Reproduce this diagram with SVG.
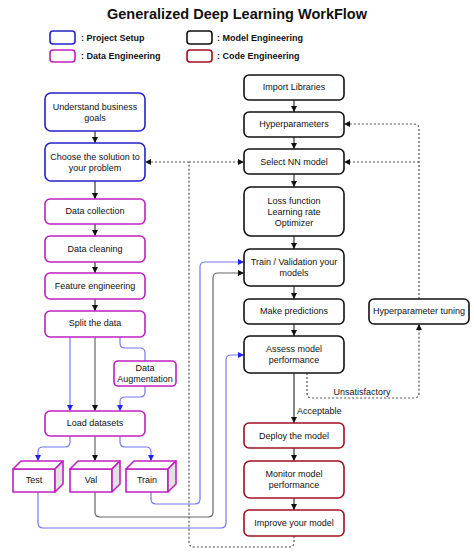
<svg xmlns="http://www.w3.org/2000/svg" width="474" height="555" viewBox="0 0 474 555">
<defs>
<style>
text{font-family:"Liberation Sans",Arial,sans-serif;font-size:9px;fill:#111;text-anchor:middle}
.title{font-size:14.5px;font-weight:bold}
.leg{font-weight:bold;text-anchor:start;font-size:9px}
.box{fill:#fff;stroke-width:1.6}
.ps{stroke:#2222cc}
.de{stroke:#c020c0}
.me{stroke:#111}
.ce{stroke:#a01020}
.cn{fill:none;stroke-width:1.2}
.k{stroke:#333}
.g{stroke:#666}
.b{stroke:#7777ee}
.d{stroke:#555;stroke-dasharray:2,2}
.cube{stroke:#c020c0;stroke-width:1.6;stroke-linejoin:round}
</style>
<marker id="ak" viewBox="0 0 6 6" refX="6" refY="3" markerWidth="6" markerHeight="6" markerUnits="userSpaceOnUse" orient="auto"><path d="M0,0L6,3L0,6z" fill="#111"/></marker>
<marker id="ab" viewBox="0 0 6 6" refX="6" refY="3" markerWidth="6" markerHeight="6" markerUnits="userSpaceOnUse" orient="auto"><path d="M0,0L6,3L0,6z" fill="#2222ee"/></marker>
</defs>
<rect width="474" height="555" fill="#fff"/>
<text class="title" x="237" y="19">Generalized Deep Learning WorkFlow</text>
<g id="legend">
<rect class="box ps" x="50" y="31" width="25" height="13" rx="3"/>
<text class="leg" x="81" y="41">: Project Setup</text>
<rect class="box de" x="50" y="50" width="25" height="12" rx="3"/>
<text class="leg" x="81" y="59">: Data Engineering</text>
<rect class="box me" x="187" y="31" width="25" height="13" rx="3"/>
<text class="leg" x="217" y="41">: Model Engineering</text>
<rect class="box ce" x="187" y="50" width="25" height="12" rx="3"/>
<text class="leg" x="217" y="59">: Code Engineering</text>
</g>
<g id="connectors">
<path class="cn k" d="M95,131V143" marker-end="url(#ak)"/>
<path class="cn k" d="M95,181V199" marker-end="url(#ak)"/>
<path class="cn k" d="M95,224V236" marker-end="url(#ak)"/>
<path class="cn k" d="M95,262V273" marker-end="url(#ak)"/>
<path class="cn k" d="M95,299V311" marker-end="url(#ak)"/>
<path class="cn b" d="M70,337V411" marker-end="url(#ab)"/>
<path class="cn g" d="M95,337V411" marker-end="url(#ak)"/>
<path class="cn b" d="M120,337V343Q120,348 125,348H140Q145,348 145,353V361"/>
<path class="cn b" d="M145,386V392Q145,397 140,397H125Q120,397 120,402V411" marker-end="url(#ab)"/>
<path class="cn b" d="M70,436V442Q70,447 65,447H43Q38,447 38,452V461" marker-end="url(#ab)"/>
<path class="cn g" d="M95,436V461" marker-end="url(#ak)"/>
<path class="cn b" d="M120,436V442Q120,447 125,447H146Q151,447 151,452V461" marker-end="url(#ab)"/>
<path class="cn b" d="M151,492V499Q151,504 156,504H195Q200,504 200,499V267Q200,262 205,262H244" marker-end="url(#ab)"/>
<path class="cn g" d="M95,492V512Q95,517 100,517H208Q213,517 213,512V278Q213,273 218,273H244" marker-end="url(#ak)"/>
<path class="cn b" d="M38,492V523Q38,528 43,528H221Q226,528 226,523V360Q226,355 231,355H244" marker-end="url(#ab)"/>
<path class="cn k" d="M294,100V112" marker-end="url(#ak)"/>
<path class="cn k" d="M294,137V149" marker-end="url(#ak)"/>
<path class="cn k" d="M294,174V187" marker-end="url(#ak)"/>
<path class="cn k" d="M294,236V249" marker-end="url(#ak)"/>
<path class="cn k" d="M294,286V299" marker-end="url(#ak)"/>
<path class="cn k" d="M294,324V336" marker-end="url(#ak)"/>
<path class="cn k" d="M294,373V423" marker-end="url(#ak)"/>
<path class="cn k" d="M294,448V461" marker-end="url(#ak)"/>
<path class="cn k" d="M294,498V510" marker-end="url(#ak)"/>
<path class="cn d" d="M294,536V542Q294,547 289,547H194Q189,547 189,542V162"/>
<path class="cn d" d="M189,162H145" marker-end="url(#ak)"/>
<path class="cn d" d="M189,162H244" marker-end="url(#ak)"/>
<path class="cn d" d="M419,299V129Q419,124 414,124H344" marker-end="url(#ak)"/>
<path class="cn d" d="M419,162H344" marker-end="url(#ak)"/>
<path class="cn d" d="M307,373V393Q307,398 312,398H414Q419,398 419,393V324" marker-end="url(#ak)"/>
<text x="362" y="395">Unsatisfactory</text>
<text x="297" y="414" style="text-anchor:start">Acceptable</text>
</g>
<g id="understand"><rect class="box ps" x="45" y="93" width="100" height="38" rx="6"/><text x="95" y="110">Understand business</text><text x="95" y="121">goals</text></g>
<g id="choose"><rect class="box ps" x="45" y="143" width="100" height="38" rx="6"/><text x="95" y="160">Choose the solution to</text><text x="95" y="171">your problem</text></g>
<g id="collection"><rect class="box de" x="45" y="199" width="100" height="25" rx="5"/><text x="95" y="214">Data collection</text></g>
<g id="cleaning"><rect class="box de" x="45" y="236" width="100" height="26" rx="5"/><text x="95" y="252">Data cleaning</text></g>
<g id="feature"><rect class="box de" x="45" y="273" width="100" height="26" rx="5"/><text x="95" y="289">Feature engineering</text></g>
<g id="split"><rect class="box de" x="45" y="311" width="100" height="26" rx="5"/><text x="95" y="326">Split the data</text></g>
<g id="augment"><rect class="box de" x="114" y="361" width="62" height="25" rx="4"/><text x="145" y="371">Data</text><text x="145" y="382">Augmentation</text></g>
<g id="load"><rect class="box de" x="45" y="411" width="100" height="25" rx="5"/><text x="95" y="426">Load datasets</text></g>
<g id="test"><rect class="cube" x="13" y="469" width="42" height="23" fill="#fff"/><path class="cube" d="M13,469L21,461H63L55,469z" fill="#fff"/><path class="cube" d="M55,469L63,461V484L55,492z" fill="#e2e2e2"/><text x="34" y="483">Test</text></g>
<g id="val"><rect class="cube" x="70" y="469" width="42" height="23" fill="#fff"/><path class="cube" d="M70,469L78,461H120L112,469z" fill="#fff"/><path class="cube" d="M112,469L120,461V484L112,492z" fill="#e2e2e2"/><text x="91" y="483">Val</text></g>
<g id="train"><rect class="cube" x="126" y="469" width="42" height="23" fill="#fff"/><path class="cube" d="M126,469L134,461H176L168,469z" fill="#fff"/><path class="cube" d="M168,469L176,461V484L168,492z" fill="#e2e2e2"/><text x="147" y="483">Train</text></g>
<g id="import"><rect class="box me" x="244" y="75" width="100" height="25" rx="5"/><text x="294" y="90">Import Libraries</text></g>
<g id="hyper"><rect class="box me" x="244" y="112" width="100" height="25" rx="5"/><text x="294" y="127">Hyperparameters</text></g>
<g id="select"><rect class="box me" x="244" y="149" width="100" height="25" rx="5"/><text x="294" y="165">Select NN model</text></g>
<g id="loss"><rect class="box me" x="244" y="187" width="100" height="49" rx="7"/><text x="294" y="204">Loss function</text><text x="294" y="215">Learning rate</text><text x="294" y="226">Optimizer</text></g>
<g id="trainval"><rect class="box me" x="244" y="249" width="100" height="37" rx="6"/><text x="294" y="265">Train / Validation your</text><text x="294" y="276">models</text></g>
<g id="predict"><rect class="box me" x="244" y="299" width="100" height="25" rx="5"/><text x="294" y="314">Make predictions</text></g>
<g id="assess"><rect class="box me" x="244" y="336" width="100" height="37" rx="6"/><text x="294" y="352">Assess model</text><text x="294" y="363">performance</text></g>
<g id="tuning"><rect class="box me" x="369" y="299" width="100" height="25" rx="5"/><text x="419" y="314">Hyperparameter tuning</text></g>
<g id="deploy"><rect class="box ce" x="244" y="423" width="100" height="25" rx="5"/><text x="294" y="439">Deploy the model</text></g>
<g id="monitor"><rect class="box ce" x="244" y="461" width="100" height="37" rx="6"/><text x="294" y="477">Monitor model</text><text x="294" y="488">performance</text></g>
<g id="improve"><rect class="box ce" x="244" y="510" width="100" height="26" rx="5"/><text x="294" y="526">Improve your model</text></g>
</svg>
